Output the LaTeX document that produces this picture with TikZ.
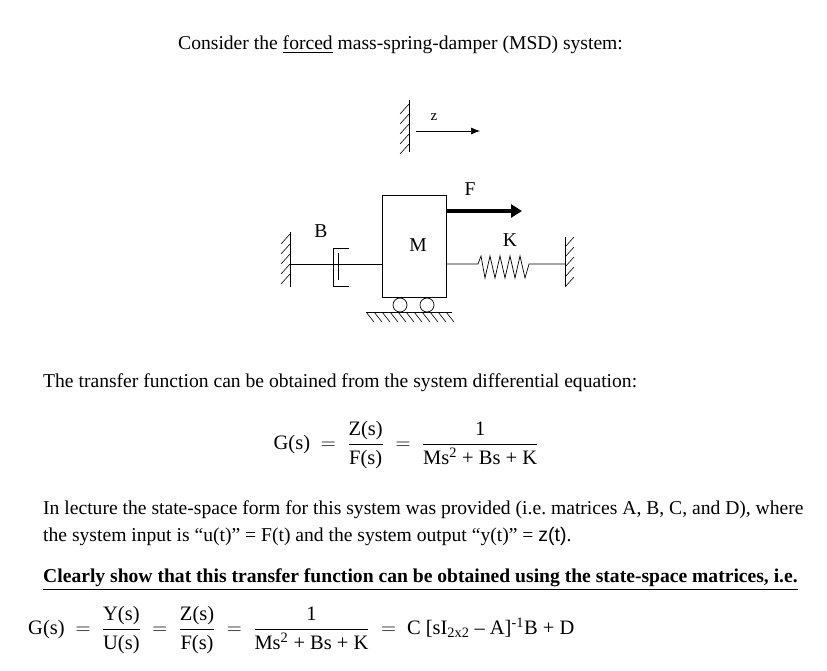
\documentclass[tikz,border=0pt]{standalone}
\usepackage{fontspec}
\usepackage{amsmath}
\setmainfont{Liberation Serif}
\newfontfamily\zfont{Liberation Sans}
\usetikzlibrary{arrows.meta,decorations.pathmorphing}
\begin{document}
\begin{tikzpicture}[x=1pt,y=-1pt,
  txt/.style={anchor=west,inner sep=0pt,font=\fontsize{19.6}{22}\selectfont},
  lbl/.style={inner sep=0pt,font=\fontsize{19.6}{22}\selectfont},
  eqs/.style={inner sep=0pt,font=\fontsize{20.5}{24}\selectfont},
  mech/.style={line width=0.7pt},
  hatch/.style={line width=0.6pt}]
\useasboundingbox (0,0) rectangle (827,670);
\node[txt] (title) at (178,45) {Consider the \underline{forced} mass-spring-damper (MSD) system:};
% top wall + z arrow
\draw[mech] (409,100) -- (409,152);
\foreach \y in {104,114,124,134,144} \draw[hatch] (409,\y) -- (400,\y+10);
\coordinate (zs) at (416,131); \coordinate (ze) at (480,131);
\draw[mech,-{Latex[length=9pt,width=7pt]}] (zs) -- (ze);
\node[lbl,font=\fontsize{15}{17}\selectfont] (zl) at (434,117) {z};
% mass
\node[draw,mech,minimum width=64pt,minimum height=102pt,inner sep=0pt] (M) at (414,246) {};
\node[lbl] (Ml) at (418,245) {M};
% left wall
\draw[mech] (290,232) -- (290,287);
\foreach \y in {234,244,254,264,274} \draw[hatch] (290,\y) -- (281,\y+10);
% damper
\coordinate (lw) at (290,264);
\draw[mech] (lw) -- (338,264);
\draw[mech] (338,253) -- (338,280);
\draw[mech] (349,248) -- (333,248) -- (333,286) -- (349,286);
\draw[mech] (333,264) -- (M.west |- 0,264);
\node[lbl] (Bl) at (321,231) {B};
% spring
\draw[mech] (M.east |- 0,264) -- (478,264) -- (481,256) -- (485,278) -- (490,256) -- (495,278) -- (500,256) -- (505,278) -- (510,256) -- (515,278) -- (520,256) -- (525,278) -- (529,264) -- (565,264);
\draw[mech] (565,237) -- (565,286);
\foreach \y in {239,249,259,269,279} \draw[hatch] (565,\y+8) -- (574,\y-2);
\node[lbl] (Kl) at (510,240) {K};
% force
\draw[line width=4pt,-{Triangle[length=11pt,width=13pt]}] (M.east |- 0,211) -- (522,211);
\node[lbl] (Fl) at (470,189) {F};
% wheels and ground
\draw[mech] (400,305) circle (7);
\draw[mech] (427,305) circle (7);
\draw[mech] (366,312) -- (452,312);
\foreach \x in {366,374,...,446} \draw[hatch] (\x,312) -- (\x+8,322);
% texts
\node[txt] (t1) at (43,383) {The transfer function can be obtained from the system differential equation:};
\node[eqs] (eq1) at (406,445) {G(s) $\;=\;\dfrac{\text{Z(s)}}{\text{F(s)}}\;=\;\dfrac{\text{\;\;\;\;\;\;1\;\;\;\;\;\;}}{\text{Ms\textsuperscript{2} + Bs + K}}$};
\node[txt] (t2) at (43,510) {In lecture the state-space form for this system was provided (i.e.\ matrices A, B, C, and D), where};
\node[txt] (t3) at (43,537) {the system input is “u(t)” = F(t) and the system output “y(t)” = {\zfont z(t)}.};
\node[txt] (t4) at (43,580) {\textbf{\underline{Clearly show that this transfer function can be obtained using the state-space matrices, i.e.}}};
\node[eqs,anchor=west] (eq2) at (28,630) {G(s) $\;=\;\dfrac{\text{Y(s)}}{\text{U(s)}}\;=\;\dfrac{\text{Z(s)}}{\text{F(s)}}\;=\;\dfrac{\text{1}}{\text{Ms\textsuperscript{2} + Bs + K}}\;=\;$ C [sI\textsubscript{2x2} -- A]\textsuperscript{-1}B + D};
\end{tikzpicture}
\end{document}
